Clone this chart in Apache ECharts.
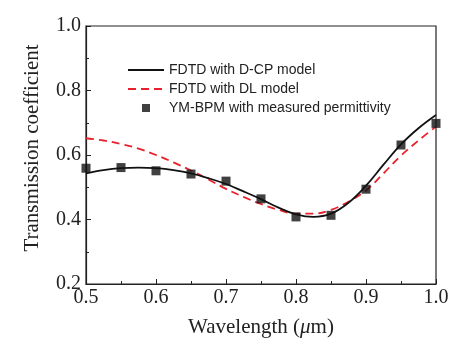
<!DOCTYPE html>
<html><head><meta charset="utf-8">
<script src="https://cdn.jsdelivr.net/npm/echarts@6/dist/echarts.min.js"></script>
<style>html,body{margin:0;padding:0;background:#fff}#c{width:474px;height:363px}</style>
</head><body><div id="c"></div>
<script>
const wavelengthsLine = [0.5,0.525,0.55,0.575,0.6,0.625,0.65,0.675,0.7,0.725,0.75,0.775,0.8,0.825,0.85,0.875,0.9,0.925,0.95,0.975,1.0];
const dcpValues = [0.543,0.553,0.559,0.561,0.559,0.553,0.543,0.528,0.510,0.487,0.463,0.437,0.416,0.408,0.418,0.452,0.505,0.570,0.633,0.683,0.724];
const dlValues  = [0.652,0.645,0.634,0.620,0.600,0.577,0.552,0.524,0.495,0.470,0.448,0.430,0.418,0.418,0.430,0.455,0.490,0.543,0.598,0.645,0.688];
const wavelengthsPts = [0.5,0.55,0.6,0.65,0.7,0.75,0.8,0.85,0.9,0.95,1.0];
const bpmValues = [0.559,0.561,0.551,0.541,0.519,0.464,0.408,0.413,0.494,0.631,0.698];
const seriesNames = ['FDTD with D-CP model','FDTD with DL model','YM-BPM with measured permittivity'];

const pair = (xs, ys) => xs.map((x, i) => [x, ys[i]]);
const serif = '"Liberation Serif","Times New Roman",serif';
const chart = echarts.init(document.getElementById('c'));
chart.setOption({
  animation: false,
  grid: {left: 86, right: 38, top: 26, bottom: 79, show: true, borderColor: '#222', borderWidth: 1.2},
  legend: {
    left: 127, top: 63, padding: 0, orient: 'vertical', itemWidth: 36, itemHeight: 8, itemGap: 5,
    textStyle: {fontFamily: '"Liberation Sans",Arial,sans-serif', fontSize: 14, lineHeight: 14, color: '#222'},
    data: [
      {name: seriesNames[0], itemStyle: {opacity: 0}},
      {name: seriesNames[1], itemStyle: {opacity: 0}},
      {name: seriesNames[2], icon: 'path://M0,0h10v10h-10z'}
    ]
  },
  xAxis: {
    type: 'value', min: 0.5, max: 1.0, interval: 0.1,
    name: 'Wavelength ({i|μ}m)', nameLocation: 'middle', nameGap: 33,
    nameTextStyle: {fontFamily: serif, fontSize: 21, color: '#222',
      rich: {i: {fontFamily: serif, fontSize: 21, fontStyle: 'italic', color: '#222'}}},
    axisLine: {lineStyle: {color: '#222', width: 1.2}},
    axisTick: {inside: true, length: 5, lineStyle: {color: '#222'}},
    minorTick: {show: true, splitNumber: 2, length: 3, lineStyle: {color: '#222'}},
    splitLine: {show: false},
    axisLabel: {fontFamily: serif, fontSize: 20, color: '#222', margin: 4, formatter: v => v.toFixed(1)}
  },
  yAxis: {
    type: 'value', min: 0.2, max: 1.0, interval: 0.2,
    name: 'Transmission coefficient', nameLocation: 'middle', nameGap: 43,
    nameTextStyle: {fontFamily: serif, fontSize: 21, color: '#222', padding: [0, 0, 0, 14]},
    axisLine: {lineStyle: {color: '#222', width: 1.2}},
    axisTick: {inside: true, length: 5, lineStyle: {color: '#222'}},
    minorTick: {show: true, splitNumber: 2, length: 3, lineStyle: {color: '#222'}},
    splitLine: {show: false},
    axisLabel: {fontFamily: serif, fontSize: 20, color: '#222', margin: 5, formatter: v => v.toFixed(1)}
  },
  series: [
    {name: seriesNames[0], type: 'line', data: pair(wavelengthsLine, dcpValues), smooth: 0.4,
     symbol: 'none', lineStyle: {color: '#111', width: 1.8}, itemStyle: {color: '#111'}, z: 3},
    {name: seriesNames[1], type: 'line', data: pair(wavelengthsLine, dlValues), smooth: 0.4,
     symbol: 'none', lineStyle: {color: '#e8212c', width: 1.8, type: [8, 5]}, itemStyle: {color: '#e8212c'}, z: 2},
    {name: seriesNames[2], type: 'scatter', data: pair(wavelengthsPts, bpmValues),
     symbol: 'rect', symbolSize: 9, itemStyle: {color: '#111'}, z: 4}
  ]
});
</script></body></html>
